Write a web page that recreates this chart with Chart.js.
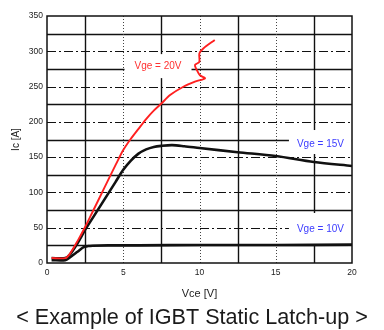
<!DOCTYPE html>
<html>
<head>
<meta charset="utf-8">
<script src="https://cdn.jsdelivr.net/npm/chart.js@4/dist/chart.umd.min.js"></script>
<style>
  html, body { margin: 0; padding: 0; background: #fff; }
  #wrap { width: 384px; height: 330px; }
</style>
</head>
<body>
<div id="wrap"><canvas id="c" width="384" height="330"></canvas></div>
<script>
// ---- data ----
const vce20 = [0.3, 1.2, 1.5, 2.0, 2.5, 3.0, 3.5, 4.0, 4.5, 5.0, 5.5, 6.0, 6.5, 7.0, 7.5, 8.07, 8.94, 9.7, 10.36, 10.03, 9.81, 9.7, 9.99, 9.99, 10.25, 11.0];
const ic20  = [7, 7, 13, 31, 51, 73, 95, 117, 139, 160, 176, 190, 204, 216, 226, 238, 249.8, 257, 261.7, 266, 274, 280.6, 285, 297, 304, 316];

const vce15 = [0.3, 1.2, 1.5, 2.0, 2.5, 3.0, 3.5, 4.0, 4.5, 5.0, 5.5, 6.0, 6.5, 7.0, 7.5, 8.2, 9.0, 10.0, 12.5, 15.0, 17.5, 20.0];
const ic15  = [7, 7, 12, 28, 47, 64, 81, 98, 115, 132, 145, 155, 161, 164.5, 166, 167, 165.5, 163, 157, 151.5, 143, 137.5];

const vce10 = [0.3, 1.2, 1.5, 2.0, 2.4, 2.7, 3.0, 4.0, 6.0, 10.0, 15.0, 20.0];
const ic10  = [4, 4, 8, 16, 22.5, 24, 24.5, 25, 25, 25.5, 25.5, 26];

const curveLabels = ['Vge = 20V', 'Vge = 15V', 'Vge = 10V'];
const labelVce = [7.28, 17.93, 17.93];
const labelIc  = [279, 168.6, 48.2];

const xTicks = [0, 5, 10, 15, 20];
const yTicks = [0, 50, 100, 150, 200, 250, 300, 350];
const hGrid = [25, 50, 75, 100, 125, 150, 175, 200, 225, 250, 275, 300, 325];
const vGrid = [2.5, 5, 7.5, 10, 12.5, 15, 17.5];

const xTitle = 'Vce [V]';
const yTitle = 'Ic [A]';
const chartTitle = '< Example of IGBT Static Latch-up >';

// ---- styling ----
const FONT = '"Liberation Sans", Arial, sans-serif';
const labelStyle = [
  { color: '#ff3030', padX: 10, padTop: 12, padBottom: 12 },
  { color: '#3c3cff', padX: 8,  padTop: 14, padBottom: 10 },
  { color: '#3c3cff', padX: 8,  padTop: 16, padBottom: 15 }
];

const pts = (xs, ys) => xs.map((v, i) => ({ x: v, y: ys[i] }));

const gridPlugin = {
  id: 'gridAndLabels',
  beforeDatasetsDraw(chart) {
    const { ctx, chartArea: a, scales: { x, y } } = chart;
    ctx.save();
    hGrid.forEach(v => {
      const py = Math.round(y.getPixelForValue(v)) + 0.5;
      const major = v % 50 === 0;
      ctx.strokeStyle = '#111';
      ctx.lineWidth = major ? 1.2 : 1.4;
      ctx.setLineDash(major ? [9, 3, 2, 3] : []);
      ctx.beginPath(); ctx.moveTo(a.left, py); ctx.lineTo(a.right, py); ctx.stroke();
    });
    vGrid.forEach(v => {
      const px = Math.round(x.getPixelForValue(v)) + 0.5;
      const dotted = v % 5 === 0;
      ctx.strokeStyle = dotted ? '#444' : '#111';
      ctx.lineWidth = dotted ? 1 : 1.4;
      ctx.setLineDash(dotted ? [1, 2] : []);
      ctx.beginPath(); ctx.moveTo(px, a.top); ctx.lineTo(px, a.bottom); ctx.stroke();
    });
    ctx.setLineDash([]);
    ctx.font = '10px ' + FONT;
    ctx.textAlign = 'center';
    ctx.textBaseline = 'middle';
    curveLabels.forEach((t, i) => {
      const cx = x.getPixelForValue(labelVce[i]);
      const cy = y.getPixelForValue(labelIc[i]);
      const s = labelStyle[i];
      const w = ctx.measureText(t).width;
      ctx.fillStyle = '#fff';
      ctx.fillRect(cx - w / 2 - s.padX, cy - s.padTop, w + 2 * s.padX, s.padTop + s.padBottom);
      ctx.fillStyle = s.color;
      ctx.fillText(t, cx, cy);
    });
    ctx.restore();
  },
  afterDatasetsDraw(chart) {
    const { ctx, chartArea: a } = chart;
    ctx.save();
    ctx.strokeStyle = '#111';
    ctx.lineWidth = 1.5;
    ctx.strokeRect(a.left, a.top, a.right - a.left, a.bottom - a.top);
    ctx.restore();
  }
};

new Chart(document.getElementById('c'), {
  type: 'scatter',
  data: {
    datasets: [
      { label: curveLabels[0], data: pts(vce20, ic20), showLine: true, borderColor: '#ff2020', borderWidth: 1.9, pointRadius: 0, tension: 0.25, fill: false },
      { label: curveLabels[1], data: pts(vce15, ic15), showLine: true, borderColor: '#111', borderWidth: 2.6, pointRadius: 0, tension: 0.3, fill: false },
      { label: curveLabels[2], data: pts(vce10, ic10), showLine: true, borderColor: '#111', borderWidth: 2.6, pointRadius: 0, tension: 0.3, fill: false }
    ]
  },
  options: {
    responsive: false,
    animation: false,
    devicePixelRatio: 1,
    layout: { padding: { top: 16, right: 0, left: 0, bottom: 0 } },
    plugins: {
      legend: { display: false },
      tooltip: { enabled: false },
      title: {
        display: true,
        position: 'bottom',
        text: chartTitle,
        color: '#1a1a1a',
        font: { family: FONT, size: 21.6, weight: 'normal', lineHeight: 1.111 },
        padding: { top: 0, bottom: 0 }
      }
    },
    scales: {
      x: {
        type: 'linear', min: 0, max: 20,
        afterBuildTicks: s => { s.ticks = xTicks.map(v => ({ value: v })); },
        afterFit: s => { s.height = 43; },
        grid: { display: false, drawTicks: false },
        border: { display: false },
        ticks: { padding: 5, color: '#222', font: { family: FONT, size: 8.5 }, maxRotation: 0 },
        title: { display: true, text: xTitle, color: '#222', font: { family: FONT, size: 11 }, padding: { top: 0, bottom: 5.4 } }
      },
      y: {
        type: 'linear', min: 0, max: 350,
        afterBuildTicks: s => { s.ticks = yTicks.map(v => ({ value: v })); },
        afterFit: s => { s.width = 47; },
        grid: { display: false, drawTicks: false },
        border: { display: false },
        ticks: { padding: 4, color: '#222', font: { family: FONT, size: 8.5 } },
        title: { display: true, text: yTitle, color: '#222', font: { family: FONT, size: 10 }, padding: { top: 10.5, bottom: 0 } }
      },
      yRightSpace: {
        type: 'linear', position: 'right', display: true,
        afterFit: s => { s.width = 32; },
        grid: { display: false, drawTicks: false },
        border: { display: false },
        ticks: { display: false }
      }
    }
  },
  plugins: [gridPlugin]
});
</script>
</body>
</html>
